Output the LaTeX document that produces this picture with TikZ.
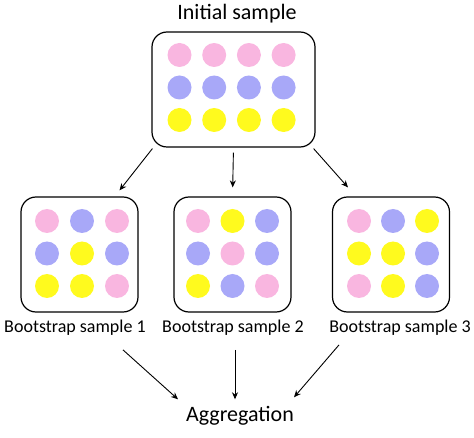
\documentclass[tikz,border=0pt]{standalone}
\usepackage{fontspec}
\setmainfont{Carlito}
\usetikzlibrary{positioning}
\usetikzlibrary{arrows.meta}

\definecolor{pinkdot}{RGB}{249,182,224}
\definecolor{lavdot}{RGB}{168,168,248}
\definecolor{yeldot}{RGB}{255,250,30}

\tikzset{
    samplebox/.style={draw, line width=1.2pt, rounded corners=15pt, minimum width=117pt, minimum height=115pt, inner sep=0pt},
    bigtext/.style={font=\fontsize{22}{26}\selectfont, inner sep=0pt},
    labtext/.style={font=\fontsize{18}{22}\selectfont, inner sep=0pt},
    arr/.style={-{Stealth[length=7pt,width=6pt]}, line width=0.9pt},
    pk/.style={fill=pinkdot},
    lv/.style={fill=lavdot},
    ye/.style={fill=yeldot}
}

\begin{document}
\begin{tikzpicture}[x=1pt, y=-1pt]
    \useasboundingbox (0,0) rectangle (474,438);

    % boxes
    \node[samplebox, minimum width=163pt] (init) at (233.5,89.5) {};
    \node[samplebox] (boot1) at (79.5,254.5) {};
    \node[samplebox] (boot2) at (232.5,254.5) {};
    \node[samplebox] (boot3) at (391,254.5) {};

    % dots
    \foreach \c [count=\k from 0] in {pk,pk,pk,pk,lv,lv,lv,lv,ye,ye,ye,ye}
        \path[\c] ({179.5+mod(\k,4)*34.7},{55+floor(\k/4)*32.5}) circle (12);
    \foreach \c [count=\k from 0] in {pk,lv,pk,lv,ye,lv,ye,ye,pk}
        \path[\c] ({47+mod(\k,3)*35},{221+floor(\k/3)*32.5}) circle (12);
    \foreach \c [count=\k from 0] in {pk,ye,lv,lv,pk,lv,ye,lv,pk}
        \path[\c] ({198+mod(\k,3)*34.5},{221+floor(\k/3)*32.5}) circle (12);
    \foreach \c [count=\k from 0] in {pk,lv,ye,ye,ye,lv,pk,ye,lv}
        \path[\c] ({359+mod(\k,3)*34},{221+floor(\k/3)*32.5}) circle (12);

    % labels
    \node[bigtext] (title) at (237,14) {Initial sample};
    \node[labtext] (lab1) at (75,328) {Bootstrap sample 1};
    \node[labtext] (lab2) at (233,328) {Bootstrap sample 2};
    \node[labtext] (lab3) at (400,328) {Bootstrap sample 3};
    \node[bigtext] (agg) at (240,416) {Aggregation};

    % arrows
    \draw[arr] ([xshift=1pt,yshift=-1pt]init.south west) -- ([xshift=40pt,yshift=6pt]boot1.north);
    \draw[arr, shorten <=5pt, shorten >=9pt] (init.south) -- (boot2.north);
    \draw[arr] ([xshift=-2pt,yshift=-1pt]init.south east) -- ([xshift=-43pt,yshift=9pt]boot3.north);
    \draw[arr] ([xshift=48pt,yshift=-14pt]lab1.south) -- ([xshift=-62pt,yshift=7pt]agg.north);
    \draw[arr] ([xshift=2pt,yshift=-14pt]lab2.south) -- ([xshift=-5pt,yshift=7pt]agg.north);
    \draw[arr] ([xshift=-61pt,yshift=-9pt]lab3.south) -- ([xshift=54pt,yshift=9pt]agg.north);
\end{tikzpicture}
\end{document}
